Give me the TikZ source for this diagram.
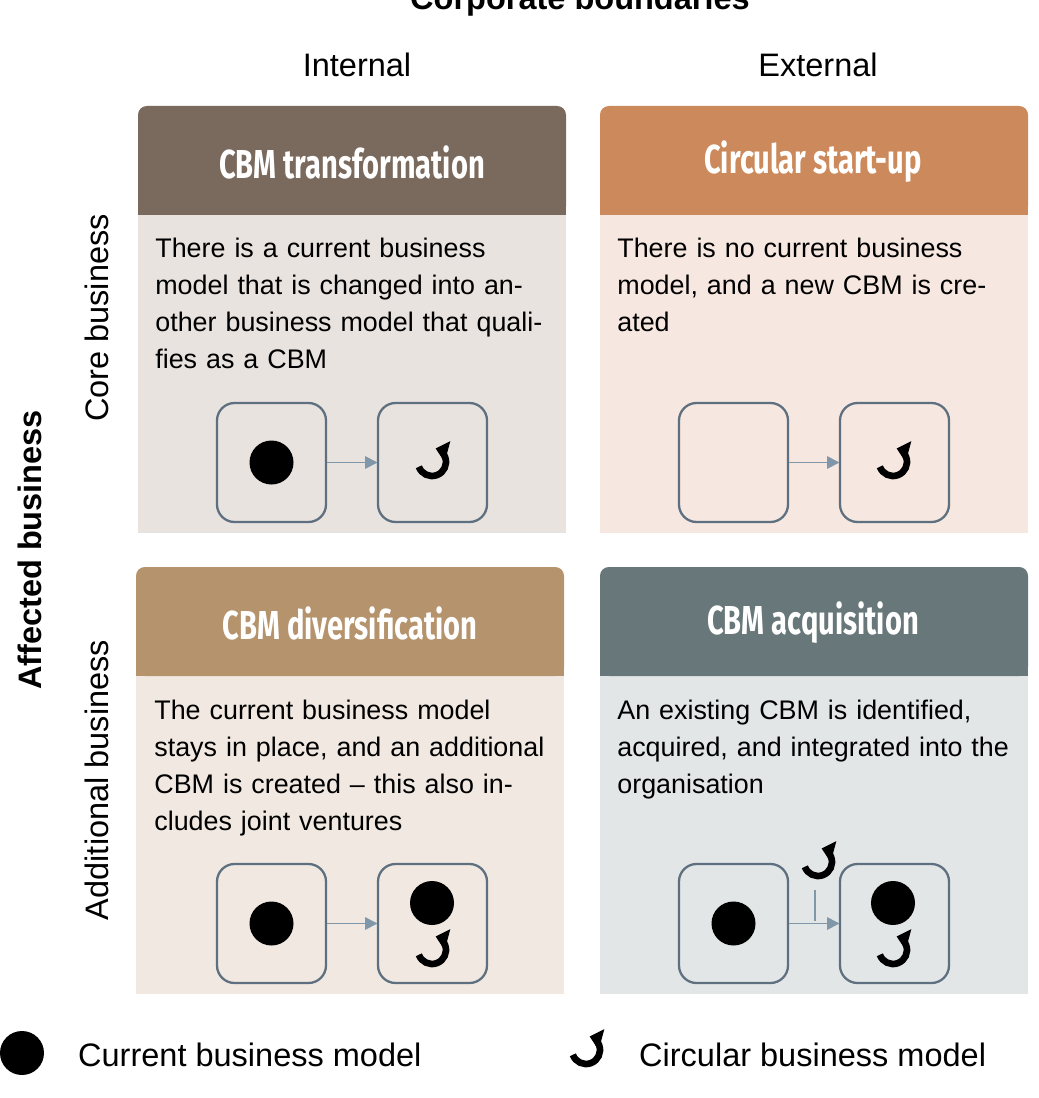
\documentclass[tikz,border=0pt]{standalone}
\usepackage{fontspec}
\setmainfont{Liberation Sans}
\newfontfamily\hdfont{Fira Sans}
\usetikzlibrary{arrows.meta,calc}
\definecolor{hTL}{HTML}{7A6A5E}\definecolor{hTR}{HTML}{CC8A5C}
\definecolor{hBL}{HTML}{B5946D}\definecolor{hBR}{HTML}{68787A}
\definecolor{bTL}{HTML}{E9E3DF}\definecolor{bTR}{HTML}{F6E8E0}
\definecolor{bBL}{HTML}{F1E9E1}\definecolor{bBR}{HTML}{E3E6E7}
\definecolor{edge}{HTML}{5E7080}\definecolor{arr}{HTML}{8097AA}
\tikzset{
 hdr/.style={text=white,font=\hdfont\bfseries\fontsize{23}{26}\selectfont},
 body/.style={anchor=north west,align=left,text width=7.9cm,font=\fontsize{15.3}{21}\selectfont,inner sep=0pt},
 ibox/.style={draw=edge,line width=1.3pt,rounded corners=10pt},
 conn/.style={draw=arr,line width=1pt,-{Triangle[length=7pt,width=7pt]}},
 lab/.style={font=\fontsize{18.5}{22}\selectfont},
}
\newcommand{\cyc}[2]{\draw[line width=3.8pt,-{Triangle[length=7pt,width=12pt]}] ($(#1,#2)+(160:14)$) arc[start angle=160,end angle=-75,radius=14];}
\newcommand{\nh}{\hyphenpenalty=10000 \exhyphenpenalty=10000 }
\begin{document}
\begin{tikzpicture}[x=0.02cm,y=-0.02cm]
\useasboundingbox (0,0) rectangle (1038,1098);
\node[font=\bfseries\fontsize{18.5}{22}\selectfont] (title) at (580,1) {Corporate boundaries};
\node[lab] (int) at (357,65) {Internal};
\node[lab] (ext) at (818,65) {External};
\node[lab,rotate=90] (core) at (97,318) {Core business};
\node[lab,rotate=90] (add) at (97,780) {Additional business};
\node[lab,rotate=90,font=\bfseries\fontsize{18.5}{22}\selectfont] (aff) at (30,550) {Affected business};
\foreach \x/\y/\h/\b in {138/106/hTL/bTL,600/106/hTR/bTR,136/567/hBL/bBL,600/567/hBR/bBR}{
 \fill[\b] (\x,\y+100) rectangle (\x+428,\y+427);
 \fill[\h,rounded corners=5pt] (\x,\y) rectangle (\x+428,\y+109);
 \fill[\h] (\x,\y+60) rectangle (\x+428,\y+109);
}
\node[hdr] (h1) at (352,162) {\scalebox{0.72}[1]{CBM transformation}};
\node[hdr] (h2) at (813,162) {\scalebox{0.72}[1]{Circular start-up}};
\node[hdr] (h3) at (350,623) {\scalebox{0.72}[1]{CBM diversification}};
\node[hdr] (h4) at (813,623) {\scalebox{0.72}[1]{CBM acquisition}};
\node[body] (t1) at (155,238) {\nh There is a current business model that is changed into another business model that qualifies as a CBM};
\node[body] (t2) at (617,238) {\nh There is no current business model, and a new CBM is created};
\node[body] (t3) at (154,700) {\nh The current business model stays in place, and an additional CBM is created -- this also includes joint ventures};
\node[body] (t4) at (617,700) {\nh An existing CBM is identified, acquired, and integrated into the organisation};
\foreach \x/\y/\n in {217/403/a1,378/403/b1,679/403/a2,840/403/b2,217/864/a3,378/864/b3,679/864/a4,840/864/b4}{
 \draw[ibox] (\x,\y) rectangle (\x+109,\y+119);
 \coordinate (\n) at (\x+54.5,\y+59.5);
}
\foreach \a/\b in {a1/b1,a2/b2,a3/b3,a4/b4}{
 \draw[conn] ($(\a)+(55,0)$) -- ($(\b)+(-55,0)$);
}
\fill (a1) circle (22); \cyc{432}{462}
\cyc{893}{462}
\fill (a3) circle (22); \fill (432,903) circle (22); \cyc{432}{950}
\fill (a4) circle (22); \fill (893,903) circle (22); \cyc{893}{950}
\cyc{818}{862}
\coordinate (jn) at (815,921);
\draw[arr,line width=1pt] (815,890) -- (jn);
\fill (22,1053) circle (22);
\node[lab,anchor=west] (l1) at (72,1055) {Current business model};
\cyc{586}{1050}
\node[lab,anchor=west] (l2) at (633,1055) {Circular business model};
\end{tikzpicture}
\end{document}
